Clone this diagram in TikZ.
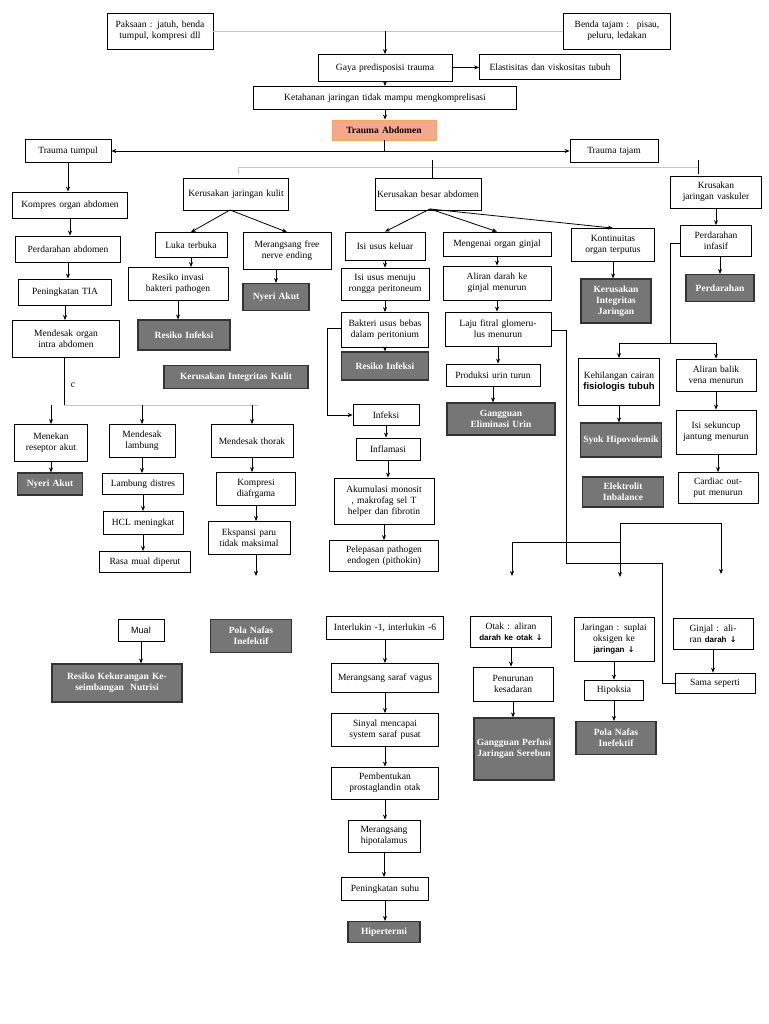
\documentclass[tikz,border=0pt]{standalone}
\usepackage{fontspec}
\setmainfont{Liberation Serif}
\newfontfamily\sfb{Liberation Sans}
\newfontfamily\dv{DejaVu Sans}
\usetikzlibrary{arrows.meta}
\definecolor{dkg}{RGB}{118,118,118}
\definecolor{salm}{RGB}{246,168,140}
\newcommand{\bx}[7][box]{\node[#1,minimum width=#5pt,minimum height=#6pt,text width=#5pt-4pt] (#2) at (#3,#4) {#7};}
\newcommand{\va}[2]{\draw[arr] (#1.south) -- (#1.south |- #2.north);}
\begin{document}
\begin{tikzpicture}[x=1pt,y=-1pt,
  box/.style={draw,line width=0.8pt,fill=white,align=center,inner sep=1pt,font=\fontsize{9.5}{11}\selectfont},
  dk/.style={box,fill=dkg,text=white,font=\fontsize{9.5}{11}\selectfont\bfseries,draw=black!80,line width=1.1pt},
  arr/.style={-{Stealth[length=5pt,width=4pt]},line width=0.8pt},
  ln/.style={line width=0.8pt},
  gl/.style={line width=0.8pt,draw=gray!45}]
\useasboundingbox (0,0) rectangle (768,1024);
% top
\bx{pak}{160}{31}{106}{36}{Paksaan : jatuh, benda tumpul, kompresi dll}
\bx{ben}{617}{31}{107}{36}{Benda tajam :~ pisau, peluru, ledakan}
\bx{gaya}{385}{68}{134}{27}{Gaya predisposisi trauma}
\bx{elas}{550}{67}{141}{25}{Elastisitas dan viskositas tubuh}
\bx{ket}{385}{98}{263}{23}{Ketahanan jaringan tidak mampu mengkomprelisasi}
\bx[box,fill=salm,draw=orange!70,font=\fontsize{9.5}{11}\selectfont\bfseries]{ta}{384}{130}{104}{20}{Trauma Abdomen}
\bx{tt}{68}{151}{86}{23}{Trauma tumpul}
\bx{tj}{614}{151}{88}{23}{Trauma tajam}
\draw[gl] (pak.east) -- (ben.west);
\draw[arr] (gaya.north |- pak.east) -- (gaya.north);
\draw[arr] (gaya) -- (elas);
\va{gaya}{ket}
\va{ket}{ta}
\coordinate (split) at (384,151);
\draw[ln] (ta.south) -- (split);
\draw[arr] (split) -- (tt.east);
\draw[arr] (split) -- (tj.west);
% left column
\bx{kom}{70}{205}{115}{26}{Kompres organ abdomen}
\bx{pab}{68}{249}{105}{26}{Perdarahan abdomen}
\bx{tia}{65}{292}{93}{26}{Peningkatan TIA}
\bx{moi}{66}{339}{107}{37}{Mendesak organ intra abdomen}
\draw[arr] (tt.south) -- (tt.south |- kom.north);
\va{kom}{pab}
\va{pab}{tia}
\va{tia}{moi}
\coordinate (cc) at (64,405);
\draw[ln] (moi.south -| cc) -- (cc);
\node[font=\fontsize{9.5}{11}\selectfont] (clab) at (73,385) {c};
\coordinate (cr) at (258,405);
\draw[gl] (cc) -- (cr);
\bx{mek}{51}{443}{73}{37}{Menekan reseptor akut}
\bx[dk]{ny1}{50}{484}{65}{22}{Nyeri Akut}
\bx{mla}{142}{441}{66}{33}{Mendesak lambung}
\bx{lds}{143}{484}{81}{21}{Lambung distres}
\bx{hcl}{143}{523}{80}{23}{HCL meningkat}
\bx{rmd}{145}{562}{91}{21}{Rasa mual diperut}
\bx{mth}{252}{441}{82}{33}{Mendesak thorak}
\bx{kdf}{256}{489}{79}{33}{Kompresi diafrgama}
\bx{epm}{249}{538}{82}{33}{Ekspansi paru tidak maksimal}
\draw[arr] (mek.north |- cc) -- (mek.north);
\draw[arr] (mla.north |- cc) -- (mla.north);
\draw[arr] (mth.north |- cc) -- (mth.north);
\va{mek}{ny1}
\va{mla}{lds}
\va{lds}{hcl}
\va{hcl}{rmd}
\va{mth}{kdf}
\va{kdf}{epm}
\coordinate (epe) at (256,576);
\draw[arr] (epm.south -| epe) -- (epe);
\node[box,font=\sfb\fontsize{9}{11}\selectfont,minimum width=46pt,minimum height=22pt] (mual) at (141,630) {Mual};
\bx[dk]{rkk}{117}{683}{130}{38}{Resiko Kekurangan Keseimbangan~ Nutrisi}
\va{mual}{rkk}
\bx[dk]{pn1}{251}{636}{81}{33}{Pola Nafas Inefektif}
% kulit
\draw[gl] (238,167) -- (698,167);
\draw[gl] (238,167) -- (238,174);
\draw[ln] (432,160) -- (432,178);
\draw[ln] (698,160) -- (698,174);
\bx{kjk}{236}{194}{105}{32}{Kerusakan jaringan kulit}
\bx{lut}{191}{245}{72}{25}{Luka terbuka}
\bx{mfn}{287}{251}{88}{37}{Merangsang free nerve ending}
\bx{rib}{178}{284}{100}{33}{Resiko invasi bakteri pathogen}
\bx[dk]{ri1}{184}{335}{92}{30}{Resiko Infeksi}
\bx[dk]{ny2}{276}{297}{66}{27}{Nyeri Akut}
\bx[dk]{kik}{236}{377}{144}{23}{Kerusakan Integritas Kulit}
\draw[arr] (230,210) -- (lut.north);
\draw[arr] (230,210) -- (mfn.north);
\va{lut}{rib}
\va{rib}{ri1}
\draw[arr] (mfn.south -| ny2.north) -- (ny2.north);
% besar abdomen
\bx{kba}{428}{194}{106}{32}{Kerusakan besar abdomen}
\bx{iuk}{385}{246}{80}{28}{Isi usus keluar}
\bx{iur}{385}{284}{88}{32}{Isi usus menuju rongga peritoneum}
\bx{bub}{385}{330}{87}{35}{Bakteri usus bebas dalam peritonium}
\bx[dk]{ri2}{385}{366}{87}{28}{Resiko Infeksi}
\bx{inf}{386}{415}{66}{21}{Infeksi}
\bx{ifl}{388}{449}{64}{22}{Inflamasi}
\bx{aku}{384}{501}{100}{46}{Akumulasi monosit , makrofag sel T helper dan fibrotin}
\bx{pel}{384}{556}{109}{31}{Pelepasan pathogen endogen (pithokin)}
\bx{mog}{497}{244}{108}{24}{Mengenai organ ginjal}
\bx{adg}{497}{283}{108}{34}{Aliran darah ke ginjal menurun}
\bx{lfg}{498}{329}{106}{34}{Laju fitral glomerulus menurun}
\bx{pur}{493}{375}{94}{22}{Produksi urin turun}
\bx[dk]{geu}{501}{419}{108}{32}{Gangguan Eliminasi Urin}
\bx{kot}{613}{245}{83}{33}{Kontinuitas organ terputus}
\bx[dk]{kij}{616}{301}{70}{44}{Kerusakan Integritas Jaringan}
\coordinate (kbo) at (430,209);
\draw[arr] (kbo) -- (iuk.north);
\draw[arr] (kbo) -- (mog.north);
\draw[arr] (kbo) -- (kot.north);
\va{iuk}{iur}
\va{iur}{bub}
\va{bub}{ri2}
\coordinate (bk) at (327,328);
\draw[arr] (bub.west |- bk) -- (bk) |- (inf.west);
\va{inf}{ifl}
\va{ifl}{aku}
\va{aku}{pel}
\va{mog}{adg}
\va{adg}{lfg}
\va{lfg}{pur}
\va{pur}{geu}
\va{kot}{kij}
% vascular
\bx{kjv}{716}{192}{91}{32}{Krusakan jaringan vaskuler}
\bx{pif}{716}{241}{71}{31}{Perdarahan infasif}
\bx[dk]{pdr}{720}{288}{68}{27}{Perdarahan}
\bx{kcf}{619}{382}{81}{47}{Kehilangan cairan {\sfb\bfseries fisiologis tubuh}}
\bx[dk]{syk}{621}{440}{81}{34}{Syok Hipovolemik}
\bx[dk]{elk}{623}{492}{81}{30}{Elektrolit Inbalance}
\bx{abv}{716}{375}{80}{32}{Aliran balik vena menurun}
\bx{isj}{716}{432}{80}{44}{Isi sekuncup jantung menurun}
\bx{com}{718}{488}{80}{31}{Cardiac output menurun}
\va{kjv}{pif}
\draw[arr] (pif.south -| pdr.north) -- (pdr.north);
\coordinate (pv1) at (670,243);
\coordinate (pv2) at (670,343);
\draw[ln] (pif.west |- pv1) -- (pv1) -- (pv2);
\draw[arr] (pv2) -| (kcf.north);
\draw[arr] (pv2) -| (abv.north);
\va{kcf}{syk}
\va{abv}{isj}
\draw[arr] (isj.south -| com.north) -- (com.north);
% lower right branches
\coordinate (b1) at (512,542);
\coordinate (b2) at (620,542);
\coordinate (b3) at (620,523);
\coordinate (b4) at (721,523);
\coordinate (e1) at (512,576);
\coordinate (e2) at (620,577);
\coordinate (e3) at (721,574);
\draw[ln] (b1) -- (b2) -- (b3) -- (b4);
\draw[arr] (b1) -- (e1);
\draw[arr] (b3) -- (e2);
\draw[arr] (b4) -- (e3);
\bx{otk}{511}{632}{81}{31}{Otak : aliran {\sfb\bfseries\fontsize{8}{10}\selectfont darah ke otak \dv↓}}
\bx{pks}{513}{684}{80}{34}{Penurunan kesadaran}
\bx[dk]{gpj}{514}{749}{80}{62}{Gangguan Perfusi Jaringan Serebun}
\bx{jso}{614}{639}{80}{44}{Jaringan : suplai oksigen ke {\sfb\bfseries\fontsize{8}{10}\selectfont jaringan \dv↓}}
\bx{hip}{614}{690}{59}{20}{Hipoksia}
\bx[dk]{pn2}{616}{738}{80}{33}{Pola Nafas Inefektif}
\bx{gad}{713}{634}{80}{31}{Ginjal : aliran {\sfb\bfseries\fontsize{8}{10}\selectfont darah \dv↓}}
\bx{sms}{715}{683}{80}{20}{Sama seperti}
\va{otk}{pks}
\va{pks}{gpj}
\va{jso}{hip}
\va{hip}{pn2}
\va{gad}{sms}
\coordinate (l1) at (566,330);
\coordinate (l2) at (566,563);
\coordinate (l3) at (662,563);
\draw[ln] (lfg.east |- l1) -- (l1) -- (l2) -- (l3) |- (sms.west);
% hipertermi chain
\bx{ilk}{385}{628}{117}{23}{Interlukin -1, interlukin -6}
\bx{msv}{385}{678}{107}{29}{Merangsang saraf vagus}
\bx{ssp}{385}{730}{107}{33}{Sinyal mencapai system saraf pusat}
\bx{ppo}{385}{783}{107}{32}{Pembentukan prostaglandin otak}
\bx{mhp}{384}{836}{72}{32}{Merangsang hipotalamus}
\bx{pss}{385}{889}{87}{23}{Peningkatan suhu}
\bx[dk]{hpt}{384}{932}{72}{21}{Hipertermi}
\va{ilk}{msv}
\va{msv}{ssp}
\va{ssp}{ppo}
\va{ppo}{mhp}
\va{mhp}{pss}
\va{pss}{hpt}
\end{tikzpicture}
\end{document}
